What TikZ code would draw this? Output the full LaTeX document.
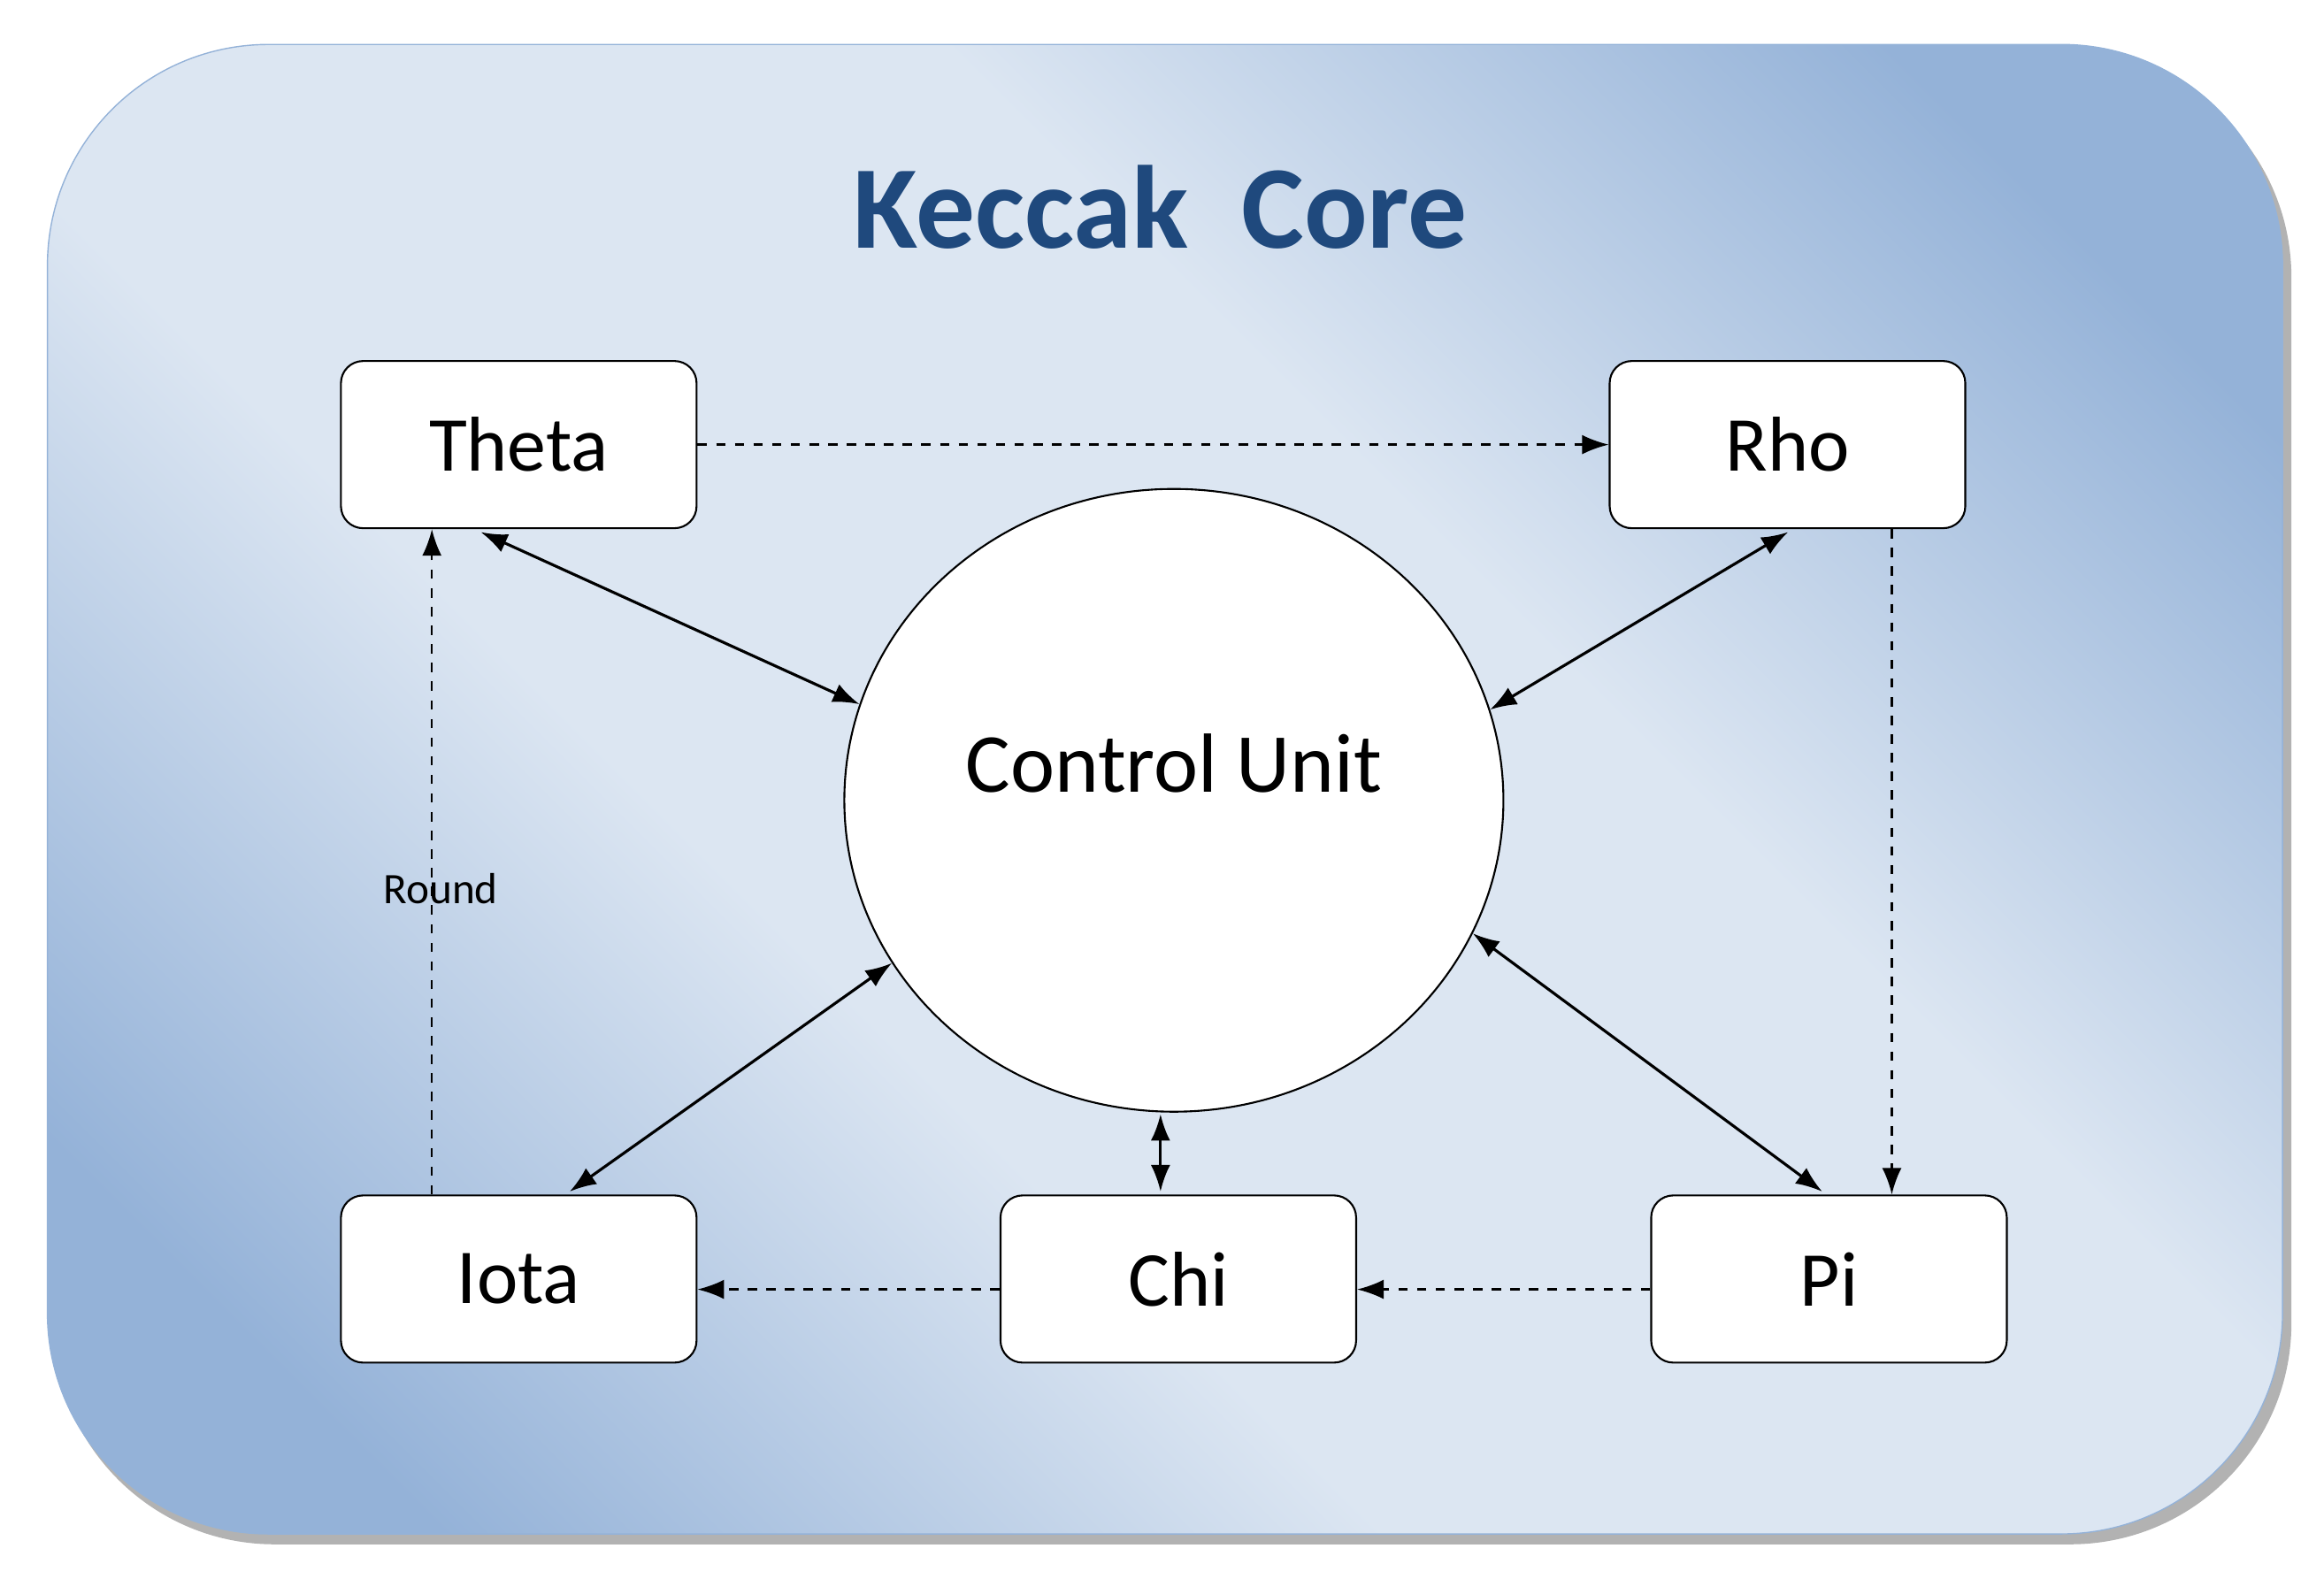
\documentclass[tikz,border=0pt]{standalone}
\usepackage{fontspec}
\setmainfont{Carlito}
\usetikzlibrary{arrows.meta,calc,shadings,shapes.geometric}
\definecolor{dk}{HTML}{94B2D8}
\definecolor{lt}{HTML}{DCE6F2}
\definecolor{tt}{HTML}{1F497D}
\pgfdeclarehorizontalshading{kec}{100bp}{color(0bp)=(dk); color(22bp)=(dk); color(40bp)=(lt); color(60bp)=(lt); color(78bp)=(dk); color(100bp)=(dk)}
\begin{document}
\begin{tikzpicture}[x=0.01675cm,y=-0.01675cm,
  box/.style={draw=black,fill=white,rounded corners=0.25cm,minimum width=4.02cm,minimum height=1.89cm,font=\fontsize{25}{30}\selectfont,line width=0.6pt},
  da/.style={dashed,line width=0.7pt,-{Latex[length=0.3cm,width=0.22cm]}},
  sa/.style={line width=0.9pt,{Latex[length=0.3cm,width=0.22cm]}-{Latex[length=0.3cm,width=0.22cm]}}]
\useasboundingbox (0,0) rectangle (1568,1065);
\fill[black!30,rounded corners=2.5cm] (36,38) rectangle (1546,1042);
\shade[shading=kec,shading angle=45,rounded corners=2.5cm,draw=dk,line width=0.4pt] (32,30) rectangle (1540,1035);
\node[font=\fontsize{38}{44}\selectfont\bfseries,text=tt] (title) at (783,140) {Keccak\ \ Core};
\node[box] (theta) at (350,300) {Theta};
\node[box] (rho) at (1206,300) {Rho};
\node[box] (iota) at (350,863) {Iota};
\node[box] (chi) at (795,863) {Chi};
\node[box] (pi) at (1234,863) {Pi};
\node[ellipse,draw=black,fill=white,minimum width=7.45cm,minimum height=7.04cm,inner sep=0pt,line width=0.6pt] (cu) at (792,540) {};
\node[font=\fontsize{27}{32}\selectfont] (cut) at (792,515) {Control Unit};
\draw[da] (theta.east) -- (rho.west);
\draw[da] ($(rho.south west)+(191,0)$) -- ($(pi.north west)+(163,0)$);
\draw[da] ($(pi.west)+(0,7)$) -- ($(chi.east)+(0,7)$);
\draw[da] ($(chi.west)+(0,7)$) -- ($(iota.east)+(0,7)$);
\draw[da] ($(iota.north west)+(62,0)$) -- node[pos=0.46,font=\fontsize{14}{16}\selectfont,xshift=0.1cm] (rl) {Round} ($(theta.south west)+(62,0)$);
\draw[sa] ($(theta.south west)+(95,2)$) -- (cu.163);
\draw[sa] ($(rho.south west)+(121,2)$) -- (cu.16);
\draw[sa] ($(iota.north west)+(155,-2)$) -- (cu.210);
\draw[sa] ($(pi.north west)+(116,-2)$) -- (cu.336);
\draw[sa] ($(chi.north)+(-12,-2)$) -- ($(cu.south)+(-9,1)$);
\end{tikzpicture}
\end{document}
